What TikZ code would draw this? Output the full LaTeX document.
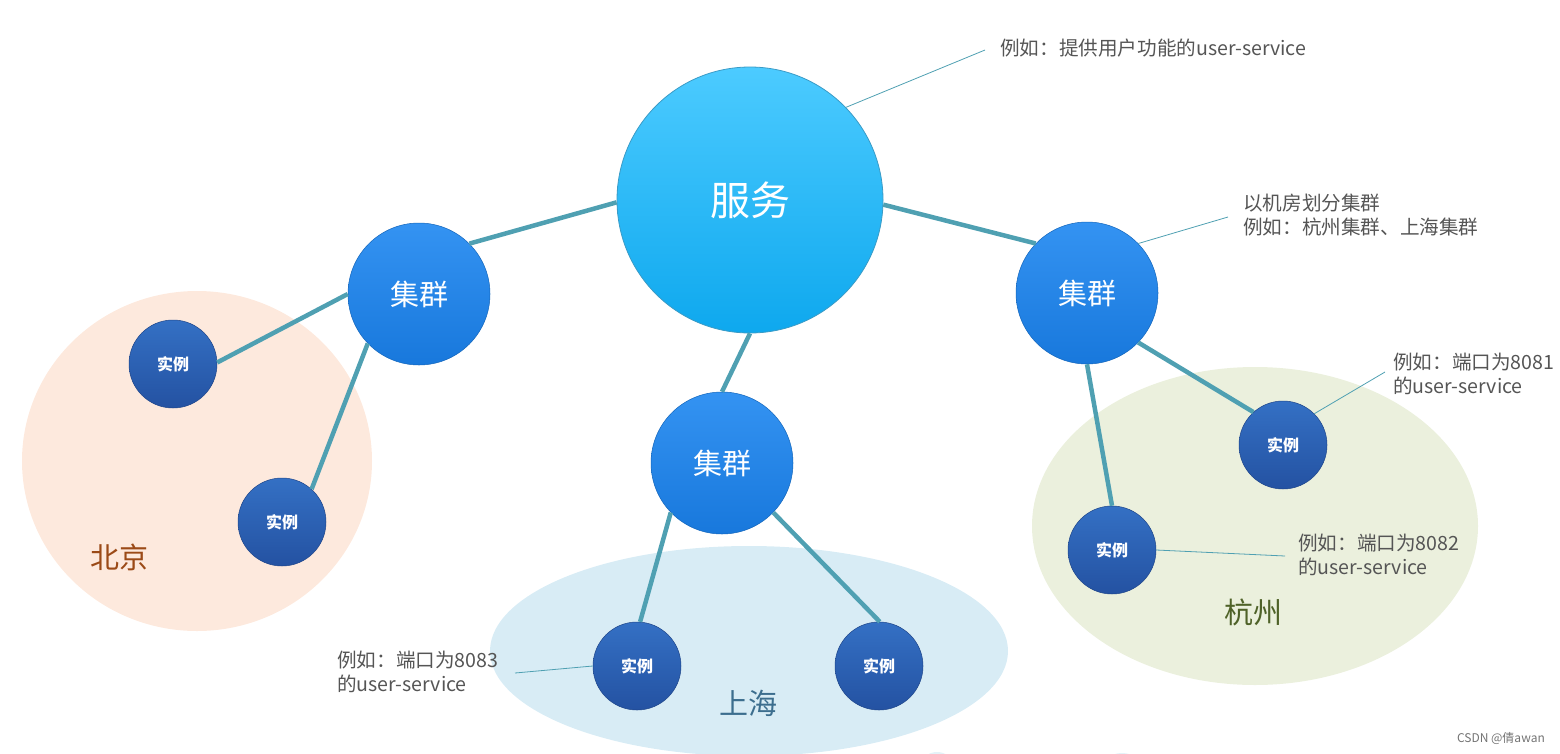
\documentclass[tikz,border=0pt]{standalone}
\usepackage{fontspec}
\setmainfont{Noto Sans CJK SC}
\usetikzlibrary{shapes.geometric}
\definecolor{svcTop}{HTML}{4CCBFF}
\definecolor{svcBot}{HTML}{0EA8EE}
\definecolor{svcLine}{HTML}{3A9BC6}
\definecolor{cluTop}{HTML}{3493F2}
\definecolor{cluBot}{HTML}{1878DC}
\definecolor{insTop}{HTML}{3470C4}
\definecolor{insBot}{HTML}{2452A2}
\definecolor{link}{HTML}{4FA0B2}
\definecolor{note}{HTML}{555555}
\definecolor{bjFill}{HTML}{FDE9DD}
\definecolor{shFill}{HTML}{D8ECF5}
\definecolor{hzFill}{HTML}{EBF0DD}
\definecolor{bjText}{HTML}{9B4A17}
\definecolor{shText}{HTML}{3C6E8E}
\definecolor{hzText}{HTML}{4F6228}
\tikzset{
  svc/.style={circle,inner sep=0pt,minimum size=266pt,top color=svcTop,bottom color=svcBot,draw=svcLine,line width=0.8pt,text=white,font=\fontsize{40}{44}\selectfont},
  clu/.style={circle,inner sep=0pt,minimum size=142pt,top color=cluTop,bottom color=cluBot,draw=cluBot!85!black,line width=0.5pt,text=white,font=\fontsize{29}{32}\selectfont},
  ins/.style={circle,inner sep=0pt,minimum size=88pt,top color=insTop,bottom color=insBot,draw=insBot!85!black,line width=0.5pt,text=white,font=\bfseries\fontsize{16}{18}\selectfont},
  conn/.style={draw=link,line width=4.5pt},
  callout/.style={draw=link,line width=0.8pt},
  notetext/.style={anchor=west,align=left,text=note,inner sep=0pt,font=\fontsize{19.6}{24}\selectfont},
  region/.style={ellipse,inner sep=0pt,draw=none},
}
\begin{document}
\begin{tikzpicture}[x=1pt,y=-1pt]
\useasboundingbox (0,0) rectangle (1560,753);
\begin{scope}
\clip (0,0) rectangle (1560,753);
% regions
\node[region,fill=bjFill,minimum width=350pt,minimum height=340pt] (bj) at (197,461) {};
\node[region,fill=shFill,minimum width=518pt,minimum height=210pt] (sh) at (749,651) {};
\node[region,fill=hzFill,minimum width=446pt,minimum height=318pt] (hz) at (1255,526) {};
\node[region,fill=shFill!70,minimum width=40pt,minimum height=30pt] (b1) at (1122,768) {};
\node[region,fill=shFill!70,minimum width=30pt,minimum height=24pt] (b2) at (937,764) {};
\end{scope}
\node[text=bjText,font=\fontsize{29}{32}\selectfont] (bjl) at (119,557) {北京};
\node[text=shText,font=\fontsize{29}{32}\selectfont] (shl) at (748,703) {上海};
\node[text=hzText,font=\fontsize{29}{32}\selectfont] (hzl) at (1253,612) {杭州};
% nodes
\node[svc] (S) at (750,200) {服务};
\node[clu] (C1) at (419,294) {集群};
\node[clu] (C2) at (722,463) {集群};
\node[clu] (C3) at (1087,293) {集群};
\node[ins] (I1) at (173,364) {实例};
\node[ins] (I2) at (282,522) {实例};
\node[ins] (I3) at (637,666) {实例};
\node[ins] (I4) at (879,666) {实例};
\node[ins] (I5) at (1283,445) {实例};
\node[ins] (I6) at (1112,550) {实例};
% connectors
\draw[conn] (S.181) -- (C1.45);
\draw[conn] (S.270) -- (C2.90);
\draw[conn] (S.358) -- (C3.136);
\draw[conn] (C1.180) -- (I1.2);
\draw[conn] (C1.224) -- (I2.48);
\draw[conn] (C2.224) -- (I3.86);
\draw[conn] (C2.316) -- (I4.89);
\draw[conn] (C3.316) -- (I5.132);
\draw[conn] (C3.270) -- (I6.90);
% callouts
\node[notetext] (n1) at (1000,48) {例如：提供用户功能的user-service};
\coordinate (e1) at (985,50);
\draw[callout] (S.44) -- (e1);
\node[notetext] (n2) at (1243,215) {以机房划分集群\\例如：杭州集群、上海集群};
\coordinate (e2) at (1228,217);
\draw[callout] (C3.44) -- (e2);
\node[notetext] (n3) at (1393,374) {例如：端口为8081\\的user-service};
\coordinate (e3) at (1385,372);
\draw[callout] (I5.45) -- (e3);
\node[notetext] (n4) at (1298,555) {例如：端口为8082\\的user-service};
\coordinate (e4) at (1285,556);
\draw[callout] (I6.east) -- (e4);
\node[notetext] (n5) at (337,672) {例如：端口为8083\\的user-service};
\coordinate (e5) at (515,673);
\draw[callout] (I3.west) -- (e5);
% watermark
\node[anchor=east,text=black!55,inner sep=0pt,font=\fontsize{12}{14}\selectfont] (wm) at (1545,738) {CSDN @倩awan};
\end{tikzpicture}
\end{document}
